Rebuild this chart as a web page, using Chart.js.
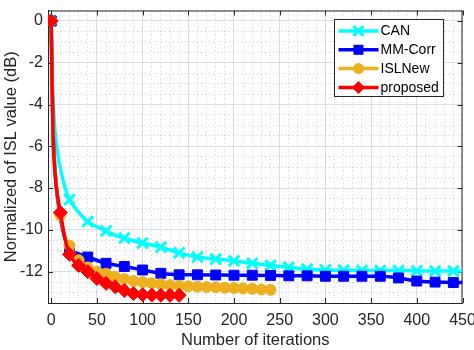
<!DOCTYPE html>
<html>
<head>
<meta charset="utf-8">
<script src="https://cdn.jsdelivr.net/npm/chart.js"></script>
<style>
  html, body { margin: 0; padding: 0; background: #fff; }
  canvas { display: block; }
</style>
</head>
<body>
<canvas id="chart" width="474" height="350"></canvas>
<script>
// values (iteration, normalized ISL in dB)
var canIter = [0, 1, 2, 4, 6, 8, 10, 14, 20, 30, 40, 50, 60, 70, 80, 100, 120, 140, 160, 180, 200, 220, 240, 260, 280, 300, 320, 340, 360, 380, 400, 420, 440, 450];
var canVal = [0, -2.2, -3.6, -5.2, -6.0, -6.6, -7.05, -7.8, -8.55, -9.15, -9.6, -9.85, -10.05, -10.25, -10.4, -10.63, -10.83, -11.1, -11.3, -11.4, -11.48, -11.6, -11.7, -11.8, -11.88, -11.92, -11.93, -11.94, -11.95, -11.95, -11.96, -11.97, -11.97, -11.97];

var mmIter = [0, 1, 2, 3, 5, 7, 10, 15, 20, 30, 40, 60, 80, 100, 120, 140, 160, 180, 200, 220, 240, 260, 280, 300, 320, 340, 360, 380, 400, 420, 440, 450];
var mmVal = [0, -3.0, -5.2, -6.3, -7.6, -8.5, -9.4, -10.4, -10.9, -11.15, -11.3, -11.6, -11.75, -11.92, -12.08, -12.15, -12.15, -12.16, -12.17, -12.17, -12.18, -12.2, -12.2, -12.22, -12.22, -12.22, -12.22, -12.3, -12.45, -12.5, -12.52, -12.52];

var islIter = [0, 1, 2, 3, 5, 7, 10, 15, 20, 30, 40, 50, 60, 70, 80, 90, 100, 110, 120, 130, 140, 150, 160, 170, 180, 190, 200, 210, 220, 230, 240];
var islVal = [0, -3.0, -5.3, -6.4, -7.6, -8.4, -9.3, -10.3, -10.75, -11.45, -11.8, -12.0, -12.1, -12.25, -12.35, -12.45, -12.5, -12.55, -12.6, -12.65, -12.68, -12.7, -12.72, -12.73, -12.75, -12.77, -12.78, -12.8, -12.82, -12.85, -12.87];

var propIter = [0, 1, 2, 3, 5, 7, 10, 15, 20, 30, 40, 50, 60, 70, 80, 90, 100, 110, 120, 130, 140];
var propVal = [0, -3.2, -5.4, -6.5, -7.7, -8.4, -9.17, -10.4, -11.17, -11.7, -12.0, -12.33, -12.56, -12.72, -12.9, -13.05, -13.1, -13.12, -13.13, -13.13, -13.13];

var seriesNames = ['CAN', 'MM-Corr', 'ISLNew', 'proposed'];
var seriesColors = ['#00FFFF', '#0000FF', '#EDB120', '#FF0000'];
var seriesMarkers = ['crossRot', 'rect', 'circle', 'rectRot'];

var xTickStep = 50, yTickStep = 2;

function pts(xs, ys) {
  return xs.map(function (x, i) { return { x: x, y: ys[i] }; });
}

function makeSet(i, xs, ys, every, radius) {
  var c = seriesColors[i];
  return {
    label: seriesNames[i],
    data: pts(xs, ys),
    borderColor: c,
    backgroundColor: c,
    borderWidth: 3.5,
    cubicInterpolationMode: 'monotone',
    pointStyle: seriesMarkers[i],
    pointBackgroundColor: c,
    pointBorderColor: c,
    pointBorderWidth: seriesMarkers[i] === 'crossRot' ? 3 : 1,
    pointRadius: function (ctx) {
      return ctx.raw && ctx.raw.x % every === 0 ? radius : 0;
    },
    order: 4 - i
  };
}

function drawMarker(ctx, style, x, y, color) {
  ctx.save();
  ctx.fillStyle = color;
  ctx.strokeStyle = color;
  ctx.beginPath();
  if (style === 'crossRot') {
    ctx.lineWidth = 3;
    ctx.moveTo(x - 5, y - 5); ctx.lineTo(x + 5, y + 5);
    ctx.moveTo(x + 5, y - 5); ctx.lineTo(x - 5, y + 5);
    ctx.stroke();
  } else if (style === 'rect') {
    ctx.fillRect(x - 5, y - 5, 10, 10);
  } else if (style === 'circle') {
    ctx.arc(x, y, 5.5, 0, Math.PI * 2);
    ctx.fill();
  } else {
    ctx.moveTo(x, y - 6.5); ctx.lineTo(x + 6.5, y); ctx.lineTo(x, y + 6.5); ctx.lineTo(x - 6.5, y);
    ctx.closePath();
    ctx.fill();
  }
  ctx.restore();
}

// box around the axes plus inward tick marks, like matlab
var framePlugin = {
  id: 'frame',
  beforeDatasetsDraw: function (chart) {
    var ctx = chart.ctx, a = chart.chartArea;
    var xs = chart.scales.x, ys = chart.scales.y;
    ctx.save();
    ctx.strokeStyle = '#262626';
    ctx.lineWidth = 1;
    ctx.beginPath();
    xs.ticks.forEach(function (t) {
      if (t.value % xTickStep !== 0) return;
      var px = Math.round(xs.getPixelForValue(t.value)) + 0.5;
      ctx.moveTo(px, a.bottom); ctx.lineTo(px, a.bottom - 5);
      ctx.moveTo(px, a.top); ctx.lineTo(px, a.top + 5);
    });
    ys.ticks.forEach(function (t) {
      if (t.value % yTickStep !== 0) return;
      var py = Math.round(ys.getPixelForValue(t.value)) + 0.5;
      ctx.moveTo(a.left, py); ctx.lineTo(a.left + 5, py);
      ctx.moveTo(a.right, py); ctx.lineTo(a.right - 5, py);
    });
    ctx.stroke();
    ctx.beginPath();
    ctx.moveTo(a.left, a.top + 0.5); ctx.lineTo(a.right, a.top + 0.5);
    ctx.moveTo(a.right - 0.5, a.top); ctx.lineTo(a.right - 0.5, a.bottom);
    ctx.stroke();
    ctx.restore();
  }
};

var legendPlugin = {
  id: 'boxLegend',
  afterDraw: function (chart) {
    var ctx = chart.ctx, a = chart.chartArea;
    var w = 109, h = 77;
    var left = Math.round(a.right - 20 - w) + 0.5, top = Math.round(a.top + 8) + 0.5;
    ctx.save();
    ctx.fillStyle = '#fff';
    ctx.fillRect(left, top, w, h);
    ctx.strokeStyle = '#262626';
    ctx.lineWidth = 1;
    ctx.strokeRect(left, top, w, h);
    ctx.font = '14px "Liberation Sans", Arial, sans-serif';
    ctx.textBaseline = 'middle';
    for (var i = 0; i < seriesNames.length; i++) {
      var y = top + 11.5 + i * 18.8;
      ctx.strokeStyle = seriesColors[i];
      ctx.lineWidth = 3.5;
      ctx.beginPath();
      ctx.moveTo(left + 4, y); ctx.lineTo(left + 44, y);
      ctx.stroke();
      drawMarker(ctx, seriesMarkers[i], left + 24, y, seriesColors[i]);
      ctx.fillStyle = '#000';
      ctx.fillText(seriesNames[i], left + 46, y + 0.5);
    }
    ctx.restore();
  }
};

Chart.defaults.font.family = '"Liberation Sans", Arial, sans-serif';
Chart.defaults.color = '#262626';

var ctx = document.getElementById('chart').getContext('2d');
var myChart = new Chart(ctx, {
  type: 'line',
  data: {
    datasets: [
      makeSet(0, canIter, canVal, 20, 7.5),
      makeSet(1, mmIter, mmVal, 20, 7),
      makeSet(2, islIter, islVal, 10, 5.5),
      makeSet(3, propIter, propVal, 10, 7)
    ]
  },
  options: {
    responsive: false,
    animation: false,
    layout: { padding: { top: 1, right: 11.5, left: 0, bottom: 0 } },
    plugins: { legend: { display: false }, tooltip: { enabled: false } },
    scales: {
      x: {
        type: 'linear',
        min: -3.5,
        max: 450,
        ticks: {
          stepSize: 10,
          autoSkip: false,
          includeBounds: false,
          maxRotation: 0,
          padding: 8,
          font: { size: 16 },
          callback: function (v) { return v % xTickStep === 0 ? v : ''; }
        },
        grid: {
          drawTicks: false,
          color: function (c) { return c.tick && c.tick.value % xTickStep === 0 ? '#dedede' : '#cdcdcd'; }
        },
        border: {
          color: '#262626',
          dash: function (c) { return c.tick && c.tick.value % xTickStep !== 0 ? [1, 3] : []; }
        },
        title: { display: true, text: 'Number of iterations', font: { size: 16.5 }, padding: { top: 0, bottom: 0 } },
        afterFit: function (s) { s.height = 47; s.paddingLeft = 0; s.paddingRight = 0; }
      },
      y: {
        type: 'linear',
        min: -13.5,
        max: 0.5,
        ticks: {
          stepSize: 0.5,
          autoSkip: false,
          padding: 5,
          font: { size: 16 },
          callback: function (v) { return v % yTickStep === 0 ? v : ''; }
        },
        grid: {
          drawTicks: false,
          color: function (c) { return c.tick && c.tick.value % yTickStep === 0 ? '#dedede' : '#cdcdcd'; }
        },
        border: {
          color: '#262626',
          dash: function (c) { return c.tick && c.tick.value % yTickStep !== 0 ? [1, 3] : []; }
        },
        title: { display: true, text: 'Normalized of ISL value (dB)', font: { size: 16.5 }, padding: { top: 2, bottom: 0 } },
        afterFit: function (s) { s.width = 48; s.paddingTop = 0; s.paddingBottom = 0; }
      }
    }
  },
  plugins: [framePlugin, legendPlugin]
});
</script>
</body>
</html>
